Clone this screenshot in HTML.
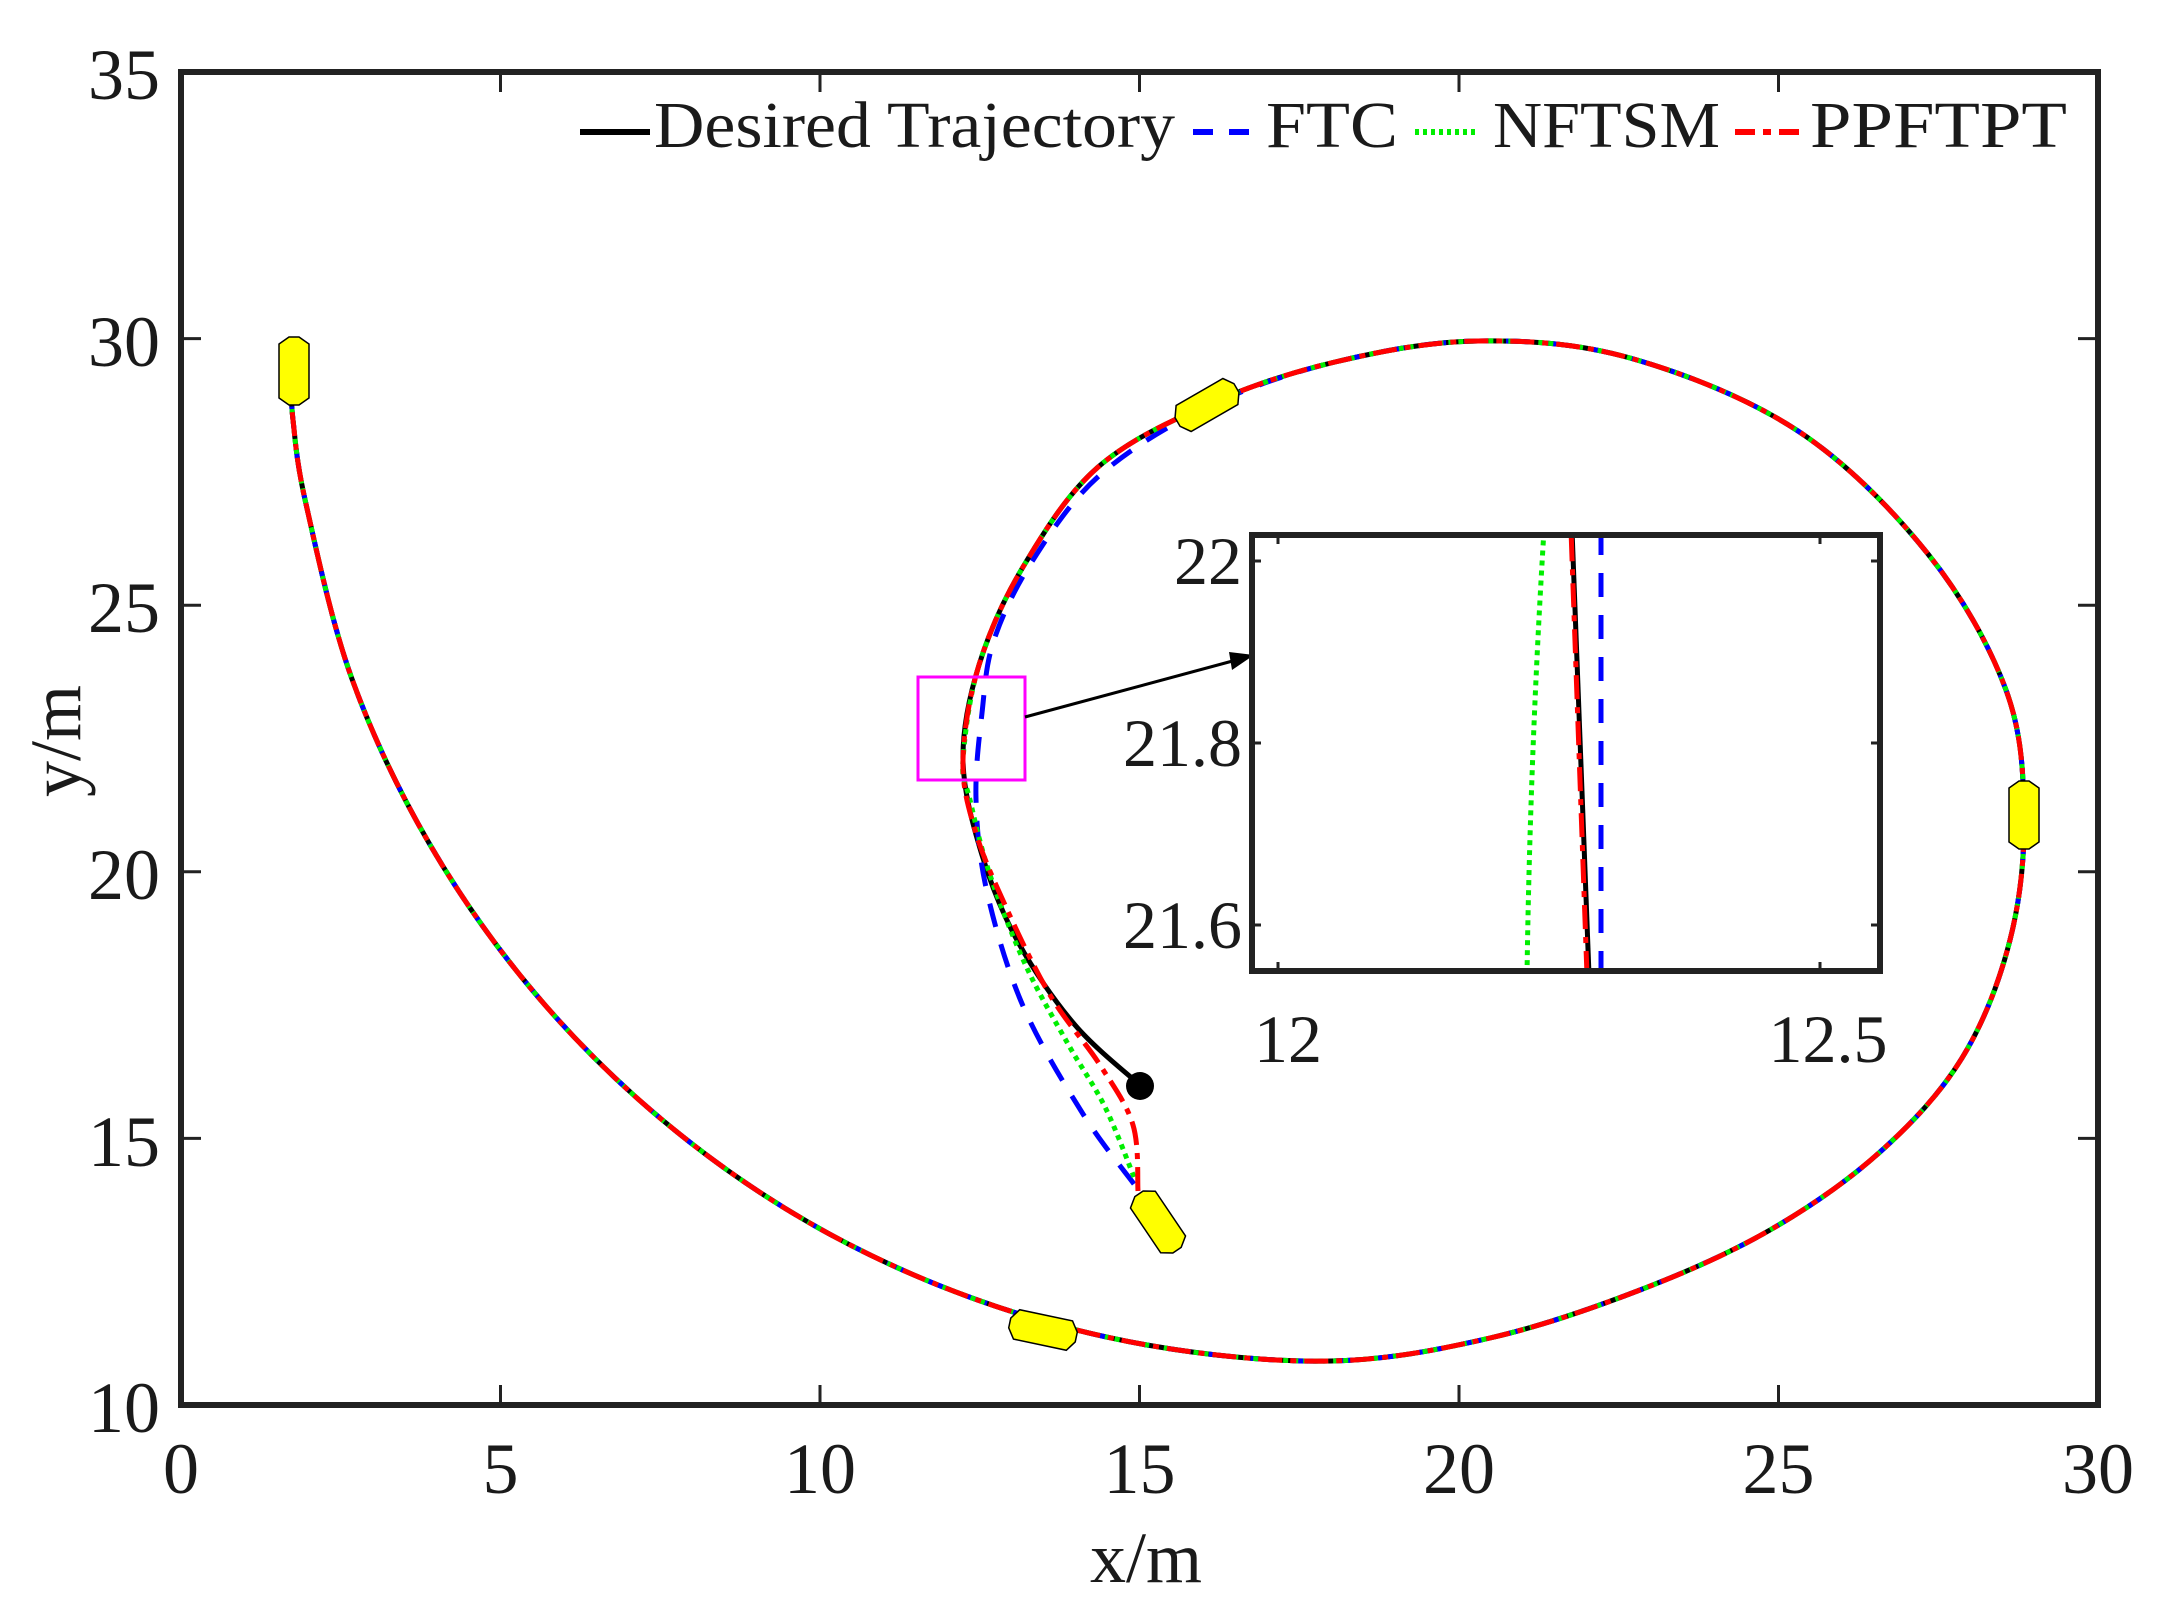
<!DOCTYPE html>
<html><head><meta charset="utf-8"><style>
html,body{margin:0;padding:0;background:#fff;}
svg{display:block;}
text{font-family:"Liberation Serif",serif;fill:#1a1a1a;}
</style></head><body>
<svg id="s" width="2160" height="1605" viewBox="0 0 2160 1605" xmlns="http://www.w3.org/2000/svg">
<defs>
<clipPath id="cm"><rect x="181" y="72" width="1917" height="1333"/></clipPath>
<clipPath id="ci"><rect x="1252" y="535" width="628" height="436"/></clipPath>
<polygon id="veh" points="-34,-5 -27,-15 27,-15 34,-5 34,5 27,15 -27,15 -34,5" fill="#ffff00" stroke="#000" stroke-width="1.5"/>
</defs>
<rect width="2160" height="1605" fill="#fff"/>
<g id="curves" clip-path="url(#cm)" fill="none" stroke-width="5"></g>
<use href="#veh" transform="translate(294,371) rotate(90)"/>
<use href="#veh" transform="translate(1207,405) rotate(-30)"/>
<use href="#veh" transform="translate(2024,815) rotate(90)"/>
<use href="#veh" transform="translate(1158,1222) rotate(56)"/>
<use href="#veh" transform="translate(1043,1330) rotate(12)"/>
<circle cx="1140" cy="1086" r="14" fill="#000"/>
<rect x="918" y="677" width="107" height="103" fill="none" stroke="#ff00ff" stroke-width="3"/>
<line x1="1025" y1="717" x2="1240" y2="659" stroke="#000" stroke-width="3"/>
<polygon points="1254,655 1232,670 1229,652" fill="#000"/>
<g stroke="#222" stroke-width="3" id="ticks"></g>
<rect x="181" y="72" width="1917" height="1333" fill="none" stroke="#222" stroke-width="6"/>
<g font-size="72" text-anchor="middle">
<text x="181" y="1493">0</text><text x="500.5" y="1493">5</text><text x="820" y="1493">10</text>
<text x="1139.5" y="1493">15</text><text x="1459" y="1493">20</text><text x="1778.5" y="1493">25</text><text x="2098" y="1493">30</text>
</g>
<g font-size="72" text-anchor="end">
<text x="160" y="1432">10</text><text x="160" y="1166">15</text><text x="160" y="899">20</text>
<text x="160" y="632">25</text><text x="160" y="366">30</text><text x="160" y="99">35</text>
</g>
<text x="1146" y="1582" font-size="72" text-anchor="middle">x/m</text>
<text transform="translate(80,741) rotate(-90)" font-size="72" text-anchor="middle">y/m</text>
<line x1="580" y1="132" x2="650" y2="132" stroke="#000" stroke-width="6"/>
<text x="654" y="147" font-size="66" textLength="521" lengthAdjust="spacingAndGlyphs" fill="#000">Desired Trajectory</text>
<line x1="1193" y1="132" x2="1262" y2="132" stroke="#0000ff" stroke-width="6" stroke-dasharray="20,16"/>
<text x="1266" y="147" font-size="66" textLength="132" lengthAdjust="spacingAndGlyphs" fill="#000">FTC</text>
<line x1="1415" y1="132" x2="1478" y2="132" stroke="#00ee00" stroke-width="6" stroke-dasharray="4,4"/>
<text x="1493" y="147" font-size="66" textLength="227" lengthAdjust="spacingAndGlyphs" fill="#000">NFTSM</text>
<line x1="1735" y1="132" x2="1806" y2="132" stroke="#ff0000" stroke-width="6" stroke-dasharray="20,8,8,8"/>
<text x="1810" y="147" font-size="66" textLength="257" lengthAdjust="spacingAndGlyphs" fill="#000">PPFTPT</text>
<rect x="1252" y="535" width="628" height="436" fill="#fff"/>
<g clip-path="url(#ci)" fill="none" stroke-width="5">
<path d="M1527,975 Q1530,760 1544,530" stroke="#00ee00" stroke-dasharray="5,5"/>
<path d="M1589,975 L1572,530" stroke="#000"/>
<path d="M1587,975 L1571,530" stroke="#ff0000" stroke-dasharray="24,8,6,8"/>
<path d="M1601,975 L1601,530" stroke="#0000ff" stroke-dasharray="24,18"/>
</g>
<g stroke="#222" stroke-width="3">
<line x1="1278" y1="971" x2="1278" y2="962"/><line x1="1820" y1="971" x2="1820" y2="962"/>
<line x1="1278" y1="535" x2="1278" y2="544"/><line x1="1820" y1="535" x2="1820" y2="544"/>
<line x1="1252" y1="561" x2="1261" y2="561"/><line x1="1252" y1="743" x2="1261" y2="743"/><line x1="1252" y1="925" x2="1261" y2="925"/>
<line x1="1880" y1="561" x2="1871" y2="561"/><line x1="1880" y1="743" x2="1871" y2="743"/><line x1="1880" y1="925" x2="1871" y2="925"/>
</g>
<rect x="1252" y="535" width="628" height="436" fill="none" stroke="#222" stroke-width="6"/>
<g font-size="68">
<text x="1242" y="584" text-anchor="end">22</text>
<text x="1242" y="766" text-anchor="end">21.8</text>
<text x="1242" y="948" text-anchor="end">21.6</text>
<text x="1288" y="1062" text-anchor="middle">12</text>
<text x="1828" y="1062" text-anchor="middle">12.5</text>
</g>
</svg>
<script>
(function(){
var NS="http://www.w3.org/2000/svg";
var tail=[[1335,362],[1478,341],[1630,358],[1798,431],[1928,554],[2006,690],[2024,815],[2010,940],[1962,1058],[1880,1152],[1770,1230],[1640,1290],[1490,1338],[1331,1361],[1147,1345],[972,1298],[808,1222],[660,1118],[533,991],[429,843],[352,679],[306,504],[293,420],[291,376]];
var outer=[[963,760],[979,665],[1023,567],[1097,468],[1207,405]].concat(tail);
var black=[[1141,1086],[1075,1025],[1018,942],[982,855]].concat(outer);
var red=[[1138,1191],[1133,1125],[1100,1065],[1050,995],[1005,905],[975,830]].concat(outer);
var green=[[1134,1177],[1105,1107],[1068,1044],[1026,966],[990,875],[970,800]].concat(outer);
var blue=[[1134,1184],[1083,1114],[1023,1006],[987,892],[976,799],[982,713],[994,640],[1033,560],[1100,475],[1207,407]].concat(tail);
function path(p){
 var d="M"+p[0][0]+","+p[0][1];
 for(var i=0;i<p.length-1;i++){
  var p0=p[i-1]||p[i],p1=p[i],p2=p[i+1],p3=p[i+2]||p[i+1];
  var c1=[p1[0]+(p2[0]-p0[0])/6,p1[1]+(p2[1]-p0[1])/6];
  var c2=[p2[0]-(p3[0]-p1[0])/6,p2[1]-(p3[1]-p1[1])/6];
  d+=" C"+c1[0].toFixed(1)+","+c1[1].toFixed(1)+" "+c2[0].toFixed(1)+","+c2[1].toFixed(1)+" "+p2[0]+","+p2[1];
 }
 return d;
}
var g=document.getElementById("curves");
[[black,"#000",""],[blue,"#0000ff","24,18"],[green,"#00ee00","5,5"],[red,"#ff0000","24,8,6,8"]].forEach(function(s){
 var e=document.createElementNS(NS,"path");
 e.setAttribute("d",path(s[0]));e.setAttribute("stroke",s[1]);
 if(s[2])e.setAttribute("stroke-dasharray",s[2]);
 g.appendChild(e);
});
var t=document.getElementById("ticks");
function ln(a,b,c,d){var e=document.createElementNS(NS,"line");e.setAttribute("x1",a);e.setAttribute("y1",b);e.setAttribute("x2",c);e.setAttribute("y2",d);t.appendChild(e);}
for(var i=1;i<6;i++){var x=181+63.9*i*5;ln(x,1405,x,1385);ln(x,72,x,92);}
for(var j=1;j<5;j++){var y=1405-53.32*j*5;ln(181,y,201,y);ln(2098,y,2078,y);}
})();
</script>
</body></html>
